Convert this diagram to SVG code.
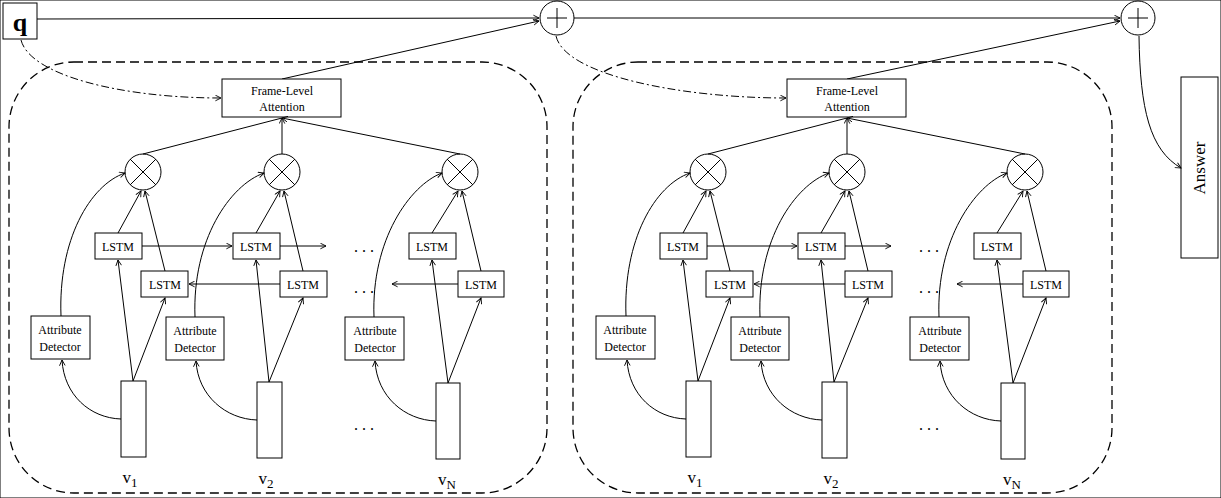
<svg xmlns="http://www.w3.org/2000/svg" width="1221" height="498" viewBox="0 0 1221 498">
<defs>
<marker id="a" viewBox="0 0 10 10" refX="9" refY="5" markerWidth="7" markerHeight="7" orient="auto" markerUnits="userSpaceOnUse"><path d="M1,1 L9,5 L1,9" fill="none" stroke="#000" stroke-width="1.3"/></marker>
<style>
rect,circle{fill:#fff;stroke:#000;stroke-width:1}
.c path,.c line{fill:none;stroke:#000;stroke-width:1;marker-end:url(#a)}
.c .n{marker-end:none}
.dd{stroke-dasharray:8 3 2 3}
.fr{fill:none;stroke:#000;stroke-width:1.3;stroke-dasharray:9 5}
text{font-family:"Liberation Serif",serif;font-size:12px;text-anchor:middle}
.x{stroke:#000;stroke-width:1}
</style>
</defs>
<rect x="0" y="0" width="1221" height="498" fill="#fff" stroke="none"/>
<g id="q"><rect x="3" y="3" width="34" height="36"/><text x="20" y="31" style="font-size:26px;font-weight:bold">q</text></g>
<g id="plus1"><circle cx="557" cy="18" r="17"/><path class="x" d="M547,18H567M557,8V28"/></g>
<g id="plus2"><circle cx="1138" cy="18" r="17"/><path class="x" d="M1128,18H1148M1138,8V28"/></g>
<g id="answer"><rect x="1181" y="77" width="37" height="181"/><text transform="translate(1205,168) rotate(-90)" style="font-size:17px">Answer</text></g>
<g class="c" id="top-connectors">
<line x1="37" y1="19" x2="539" y2="18"/>
<line x1="574" y1="18" x2="1120" y2="18"/>
<path class="dd" d="M21,40 C30,75 120,98 221,98"/>
<path class="dd" d="M556,36 C565,75 680,98 786,98"/>
<path d="M282,79 L539,21"/>
<path d="M847,79 L1120,21"/>
<path d="M1139,36 C1140,110 1150,150 1181,168"/>
</g>
<g id="panel1">
<rect class="fr" x="9" y="62" width="538" height="431" rx="65" ry="65"/>
<g id="fla1"><rect x="222" y="79" width="119" height="38"/><text x="282" y="95">Frame-Level</text><text x="282" y="111">Attention</text></g>
<g id="mul1"><circle cx="143" cy="172" r="18"/><path class="x" d="M130,159L156,185M156,159L130,185"/></g>
<g id="mul2"><circle cx="282" cy="172" r="18"/><path class="x" d="M269,159L295,185M295,159L269,185"/></g>
<g id="mul3"><circle cx="460" cy="172" r="18"/><path class="x" d="M447,159L473,185M473,159L447,185"/></g>
<g id="lstmf1"><rect x="95" y="233" width="47" height="26"/><text x="118" y="251">LSTM</text></g>
<g id="lstmf2"><rect x="233" y="233" width="47" height="26"/><text x="256" y="251">LSTM</text></g>
<g id="lstmf3"><rect x="409" y="233" width="47" height="26"/><text x="432" y="251">LSTM</text></g>
<g id="lstmb1"><rect x="141" y="271" width="47" height="26"/><text x="165" y="289">LSTM</text></g>
<g id="lstmb2"><rect x="280" y="271" width="47" height="26"/><text x="303" y="289">LSTM</text></g>
<g id="lstmb3"><rect x="458" y="271" width="46" height="26"/><text x="481" y="289">LSTM</text></g>
<g id="ad1"><rect x="31" y="316" width="59" height="43"/><text x="60" y="334">Attribute</text><text x="60" y="351">Detector</text></g>
<g id="ad2"><rect x="166" y="317" width="58" height="43"/><text x="195" y="335">Attribute</text><text x="195" y="352">Detector</text></g>
<g id="ad3"><rect x="345" y="317" width="59" height="43"/><text x="375" y="335">Attribute</text><text x="375" y="352">Detector</text></g>
<g id="v1"><rect x="121" y="381" width="25" height="76"/><text x="130" y="483" style="font-size:17px">v<tspan dy="4" style="font-size:13px">1</tspan></text></g>
<g id="v2"><rect x="257" y="382" width="25" height="76"/><text x="266" y="484" style="font-size:17px">v<tspan dy="4" style="font-size:13px">2</tspan></text></g>
<g id="vN"><rect x="436" y="383" width="24" height="76"/><text x="447" y="485" style="font-size:17px">v<tspan dy="4" style="font-size:13px">N</tspan></text></g>
<g id="dots1"><text x="364" y="252" style="font-size:16px">. . .</text><text x="364" y="293" style="font-size:16px">. . .</text><text x="364" y="430" style="font-size:16px">. . .</text></g>
<g class="c" id="connectors1">
<line x1="143" y1="154" x2="282" y2="118" class="n"/><line x1="460" y1="154" x2="282" y2="118"/>
<line x1="282" y1="154" x2="282" y2="118"/>
<line x1="142" y1="246" x2="232" y2="246"/><line x1="280" y1="246" x2="326" y2="246"/>
<line x1="280" y1="284" x2="189" y2="284"/><line x1="458" y1="284" x2="392" y2="284"/>
<line x1="118" y1="233" x2="141" y2="191"/><line x1="165" y1="271" x2="145" y2="191"/>
<line x1="256" y1="233" x2="280" y2="191"/><line x1="303" y1="271" x2="284" y2="191"/>
<line x1="432" y1="233" x2="458" y2="191"/><line x1="481" y1="271" x2="462" y2="191"/>
<line x1="133" y1="381" x2="118" y2="260"/><line x1="133" y1="381" x2="165" y2="298"/>
<line x1="269" y1="382" x2="256" y2="260"/><line x1="269" y1="382" x2="303" y2="298"/>
<line x1="448" y1="383" x2="432" y2="260"/><line x1="448" y1="383" x2="481" y2="298"/>
<path d="M61,316 C58,240 90,185 125,173"/>
<path d="M195,317 C192,240 230,185 264,173"/>
<path d="M374,317 C371,240 410,185 442,173"/>
<path d="M121,419 C90,418 64,395 62,360"/>
<path d="M257,420 C226,419 198,396 196,361"/>
<path d="M436,421 C405,420 377,397 375,361"/>
</g>
</g>
<g id="panel2" transform="translate(565,0)">
<rect class="fr" x="8" y="62" width="539" height="431" rx="65" ry="65"/>
<g id="fla2"><rect x="222" y="79" width="119" height="38"/><text x="282" y="95">Frame-Level</text><text x="282" y="111">Attention</text></g>
<g id="mul4"><circle cx="143" cy="172" r="18"/><path class="x" d="M130,159L156,185M156,159L130,185"/></g>
<g id="mul5"><circle cx="282" cy="172" r="18"/><path class="x" d="M269,159L295,185M295,159L269,185"/></g>
<g id="mul6"><circle cx="460" cy="172" r="18"/><path class="x" d="M447,159L473,185M473,159L447,185"/></g>
<g id="lstmf4"><rect x="95" y="233" width="47" height="26"/><text x="118" y="251">LSTM</text></g>
<g id="lstmf5"><rect x="233" y="233" width="47" height="26"/><text x="256" y="251">LSTM</text></g>
<g id="lstmf6"><rect x="409" y="233" width="47" height="26"/><text x="432" y="251">LSTM</text></g>
<g id="lstmb4"><rect x="141" y="271" width="47" height="26"/><text x="165" y="289">LSTM</text></g>
<g id="lstmb5"><rect x="280" y="271" width="47" height="26"/><text x="303" y="289">LSTM</text></g>
<g id="lstmb6"><rect x="458" y="271" width="46" height="26"/><text x="481" y="289">LSTM</text></g>
<g id="ad4"><rect x="31" y="316" width="59" height="43"/><text x="60" y="334">Attribute</text><text x="60" y="351">Detector</text></g>
<g id="ad5"><rect x="166" y="317" width="58" height="43"/><text x="195" y="335">Attribute</text><text x="195" y="352">Detector</text></g>
<g id="ad6"><rect x="345" y="317" width="59" height="43"/><text x="375" y="335">Attribute</text><text x="375" y="352">Detector</text></g>
<g id="v1b"><rect x="121" y="381" width="25" height="76"/><text x="130" y="483" style="font-size:17px">v<tspan dy="4" style="font-size:13px">1</tspan></text></g>
<g id="v2b"><rect x="257" y="382" width="25" height="76"/><text x="266" y="484" style="font-size:17px">v<tspan dy="4" style="font-size:13px">2</tspan></text></g>
<g id="vNb"><rect x="436" y="383" width="24" height="76"/><text x="447" y="485" style="font-size:17px">v<tspan dy="4" style="font-size:13px">N</tspan></text></g>
<g id="dots2"><text x="364" y="252" style="font-size:16px">. . .</text><text x="364" y="293" style="font-size:16px">. . .</text><text x="364" y="430" style="font-size:16px">. . .</text></g>
<g class="c" id="connectors2">
<line x1="143" y1="154" x2="282" y2="118" class="n"/><line x1="460" y1="154" x2="282" y2="118"/>
<line x1="282" y1="154" x2="282" y2="118"/>
<line x1="142" y1="246" x2="232" y2="246"/><line x1="280" y1="246" x2="326" y2="246"/>
<line x1="280" y1="284" x2="189" y2="284"/><line x1="458" y1="284" x2="392" y2="284"/>
<line x1="118" y1="233" x2="141" y2="191"/><line x1="165" y1="271" x2="145" y2="191"/>
<line x1="256" y1="233" x2="280" y2="191"/><line x1="303" y1="271" x2="284" y2="191"/>
<line x1="432" y1="233" x2="458" y2="191"/><line x1="481" y1="271" x2="462" y2="191"/>
<line x1="133" y1="381" x2="118" y2="260"/><line x1="133" y1="381" x2="165" y2="298"/>
<line x1="269" y1="382" x2="256" y2="260"/><line x1="269" y1="382" x2="303" y2="298"/>
<line x1="448" y1="383" x2="432" y2="260"/><line x1="448" y1="383" x2="481" y2="298"/>
<path d="M61,316 C58,240 90,185 125,173"/>
<path d="M195,317 C192,240 230,185 264,173"/>
<path d="M374,317 C371,240 410,185 442,173"/>
<path d="M121,419 C90,418 64,395 62,360"/>
<path d="M257,420 C226,419 198,396 196,361"/>
<path d="M436,421 C405,420 377,397 375,361"/>
</g>
</g>
</svg>
